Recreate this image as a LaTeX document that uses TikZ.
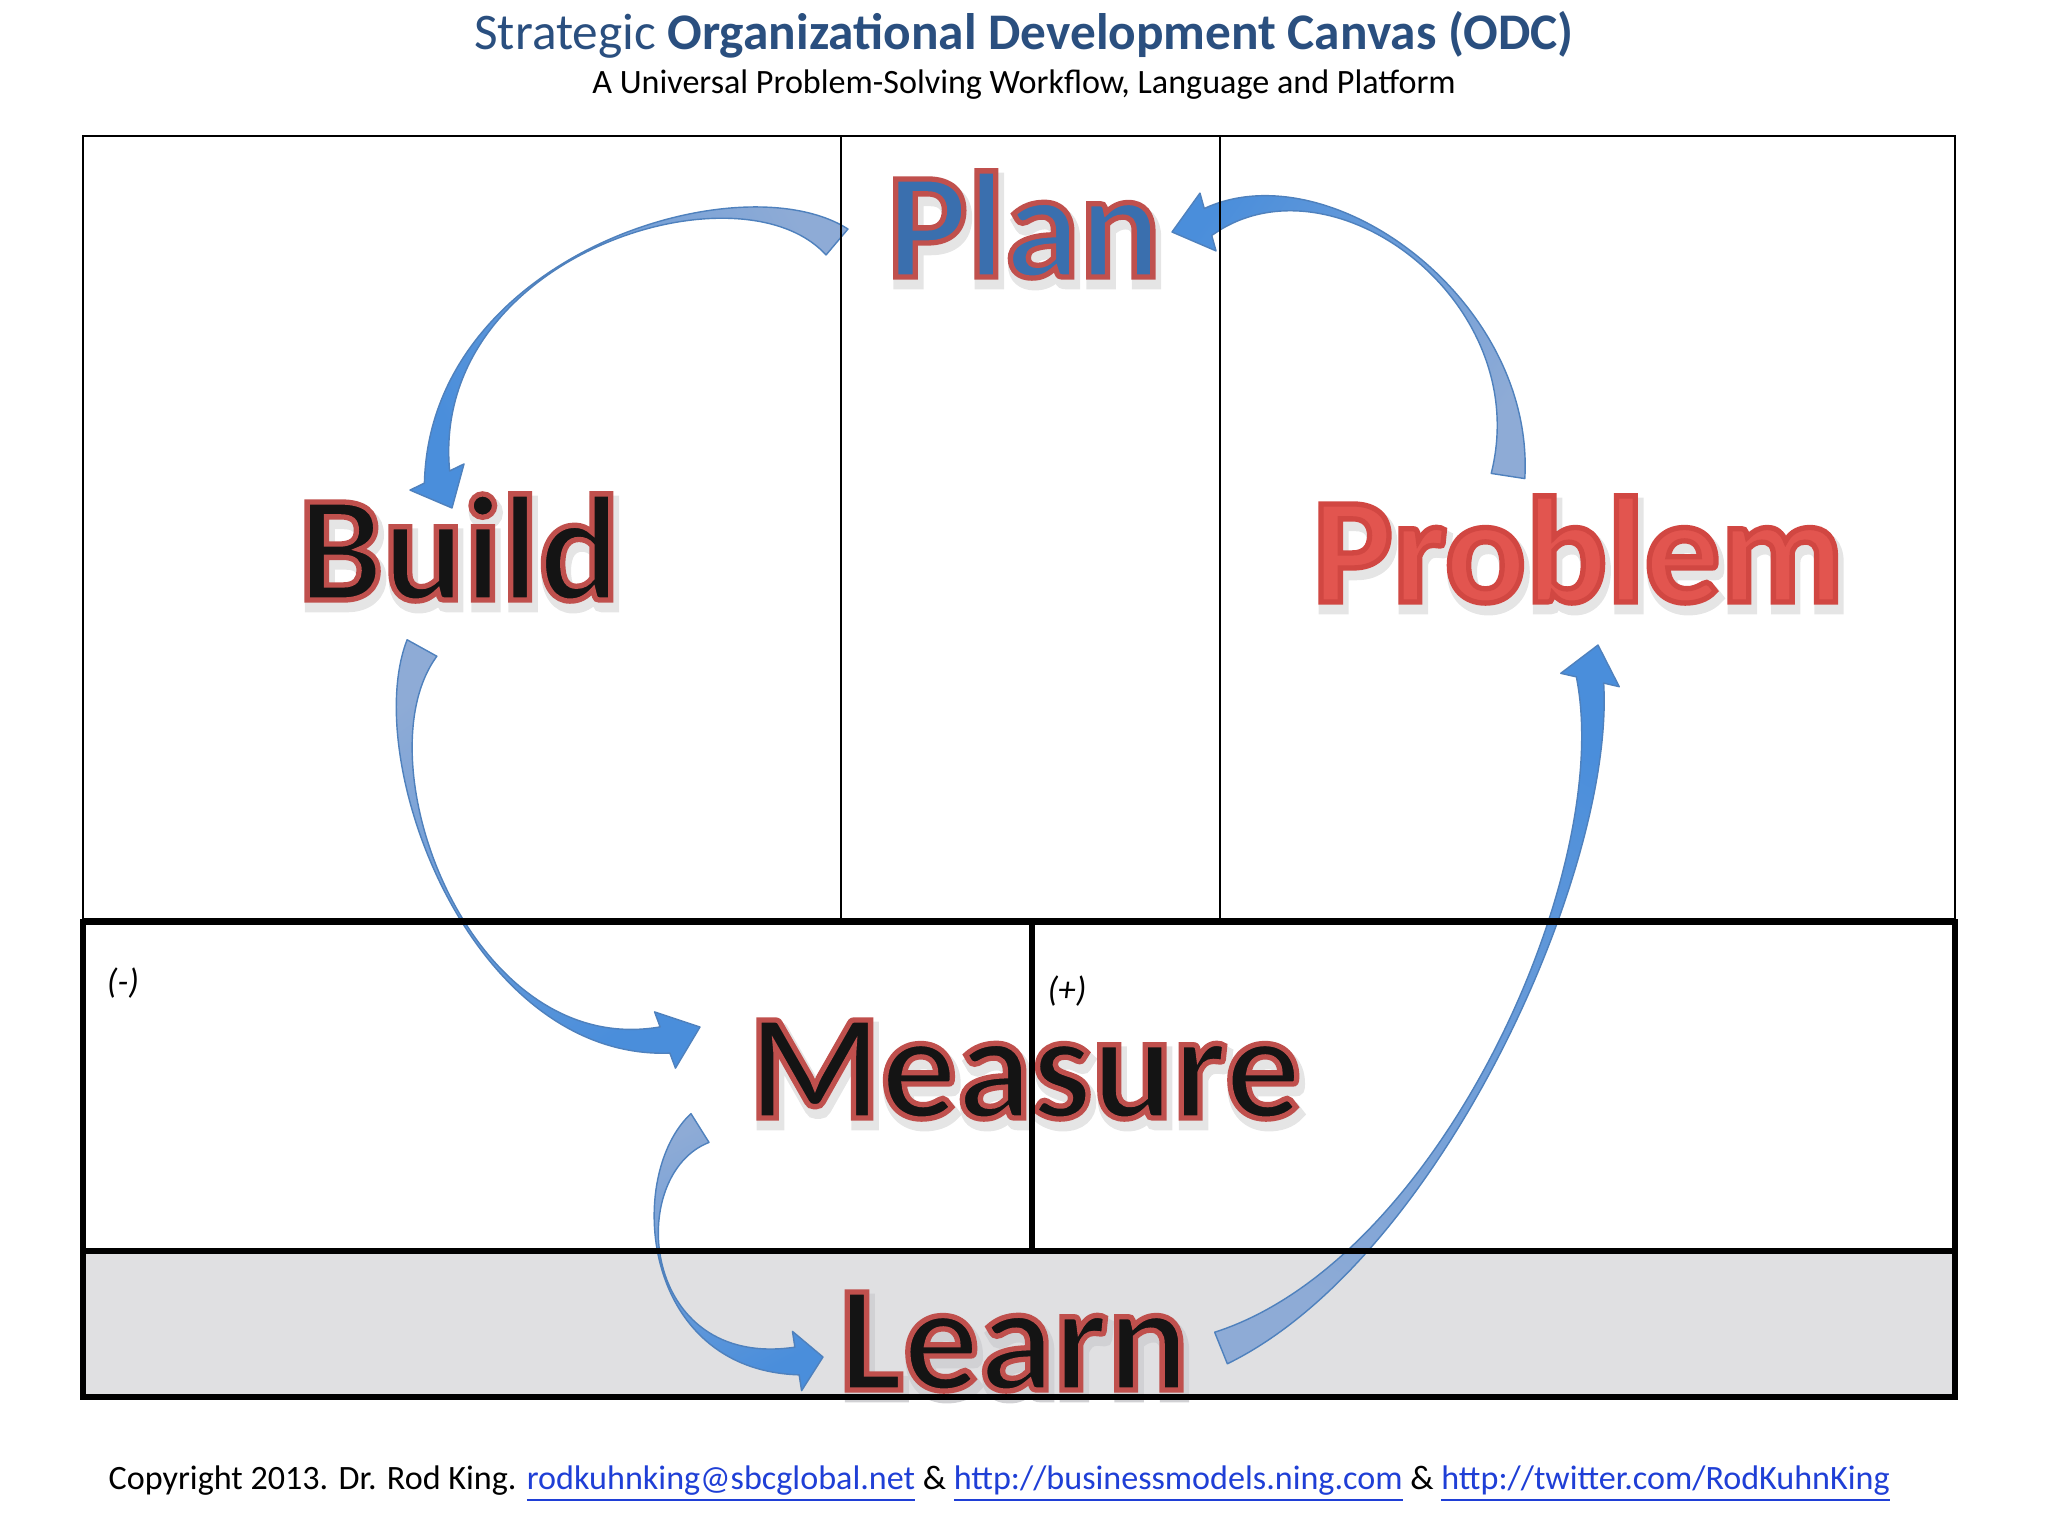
\documentclass[tikz,border=0pt]{standalone}
\usepackage{fontspec}
\setmainfont{Carlito}
\newfontface\rimfont{Carlito Bold}[FakeBold=3.5]
\newfontface\hazefont{Carlito Bold}[FakeBold=7]
\usetikzlibrary{calc}

\definecolor{titleblue}{HTML}{2A4F7F}
\definecolor{linkblue}{HTML}{1F3FD6}
\definecolor{arrowtail}{HTML}{8EABD6}
\definecolor{arrowhead}{HTML}{4A8EDB}
\definecolor{arrowedge}{HTML}{4F81BD}
\definecolor{planblue}{HTML}{3A6FAE}
\definecolor{probred}{HTML}{E2554F}
\definecolor{learngray}{HTML}{E0E0E2}

\tikzset{
  word/.style={anchor = base, inner sep = 0pt, font = \fontsize{43}{50}\selectfont\rimfont},
  haze/.style={anchor = base, inner sep = 0pt, text = black!20, font = \fontsize{43}{50}\selectfont\hazefont},
  line/.style={anchor = base, inner sep = 0pt},
  thin frame/.style={line width = 0.8pt},
  thick frame/.style={line width = 1.8pt},
  bent arrow/.style={top color = arrowtail, bottom color = arrowhead, draw = arrowedge, line width = 0.4pt, line join = round}
}

\newcommand{\weblink}[1]{\textcolor{linkblue}{\underline{#1}}}
\newcommand{\rim}[2]{\special{pdf:code #1 RG}#2}

\newcommand{\bentarrow}[6]{%
  \coordinate (ba-tail) at (#2);
  \coordinate (ba-c1) at (#3);
  \coordinate (ba-c2) at (#4);
  \coordinate (ba-base) at (#5);
  \coordinate (ba-tip) at (#6);
  \draw[bent arrow, shading angle = #1] ($(ba-tail)!1.7mm!90:(ba-c1)$) .. controls (ba-c1) and (ba-c2) .. ($(ba-base)!1.4mm!90:(ba-tip)$)
    -- ($(ba-base)!3mm!90:(ba-tip)$) -- (ba-tip) -- ($(ba-base)!3mm!-90:(ba-tip)$)
    -- ($(ba-base)!1.4mm!-90:(ba-tip)$) .. controls (ba-c2) and (ba-c1) .. ($(ba-tail)!1.7mm!-90:(ba-c1)$) -- cycle;
}

\begin{document}
\begin{tikzpicture}[x = 0.01cm, y = -0.01cm]
\useasboundingbox (0,0) rectangle (2048,1536);
\fill[learngray] (83,1251) rectangle (1955,1397);

\node[line, text = titleblue, font = \fontsize{14.6}{17}\selectfont] (title) at (1024,49) {Strategic \textbf{Organizational Development Canvas (ODC)}};
\node[line, font = \fontsize{9.7}{12}\selectfont] (subtitle) at (1024,93) {A Universal Problem-Solving Workflow, Language and Platform};

\node[haze] (plan-haze) at (1027,284) {\rim{0.9 0.9 0.9}{Plan}};
\node[haze] (build-haze) at (462,607) {\rim{0.9 0.9 0.9}{Build}};
\node[haze] (problem-haze) at (1581,609) {\rim{0.9 0.9 0.9}{Problem}};
\node[haze] (measure-haze) at (1028,1125) {\rim{0.9 0.9 0.9}{Measure}};
\node[haze] (learn-haze) at (1017,1397) {\rim{0.82 0.82 0.83}{Learn}};

\node[word, text = planblue] (plan) at (1024,277) {\rim{0.753 0.314 0.302}{Plan}};
\node[word, text = black!92] (build) at (459,600) {\rim{0.753 0.314 0.302}{Build}};
\node[word, text = probred] (problem) at (1578,602) {\rim{0.82 0.28 0.26}{Problem}};
\node[word, text = black!92] (measure) at (1025,1118) {\rim{0.753 0.314 0.302}{Measure}};
\node[word, text = black!92] (learn) at (1014,1390) {\rim{0.753 0.314 0.302}{Learn}};

\node[font = \fontsize{10}{12}\selectfont\itshape] (minus) at (123,983) {(-)};
\node[font = \fontsize{10}{12}\selectfont\itshape] (plus) at (1067,991) {(+)};

\bentarrow{-61}{$(plan.base)+(-187,-35)$}{740,160}{430,255}{$(build.base)+(-22,-123)$}{$(build.base)+(-7,-92)$}
\bentarrow{-126}{$(problem.base)+(-70,-126)$}{1535,300}{1330,150}{$(plan.base)+(184,-55)$}{$(plan.base)+(148,-45)$}
\bentarrow{36}{$(build.base)+(-37,48)$}{360,760}{470,1060}{$(measure.base)+(-360,-78)$}{$(measure.base)+(-325,-91)$}
\bentarrow{28}{$(measure.base)+(-325,10)$}{625,1175}{640,1370}{$(learn.base)+(-217,-29)$}{$(learn.base)+(-191,-33)$}
\bentarrow{152}{$(learn.base)+(207,-42)$}{1440,1260}{1615,870}{$(problem.base)+(12,78)$}{$(problem.base)+(20,43)$}

\draw[thin frame] (83,136) rectangle (1955,919);
\draw[thin frame] (841,136) -- (841,919);
\draw[thin frame] (1220,136) -- (1220,919);
\draw[thick frame] (83,922) rectangle (1955,1397);
\draw[thick frame] (83,1251) -- (1955,1251);
\draw[thick frame] (1032,922) -- (1032,1251);

\node[line, anchor = base west, font = \fontsize{9.7}{12}\selectfont] (footer) at (108,1489) {Copyright 2013. Dr. Rod King. \weblink{rodkuhnking@sbcglobal.net} \& \weblink{http://businessmodels.ning.com} \& \weblink{http://twitter.com/RodKuhnKing}};
\end{tikzpicture}
\end{document}
